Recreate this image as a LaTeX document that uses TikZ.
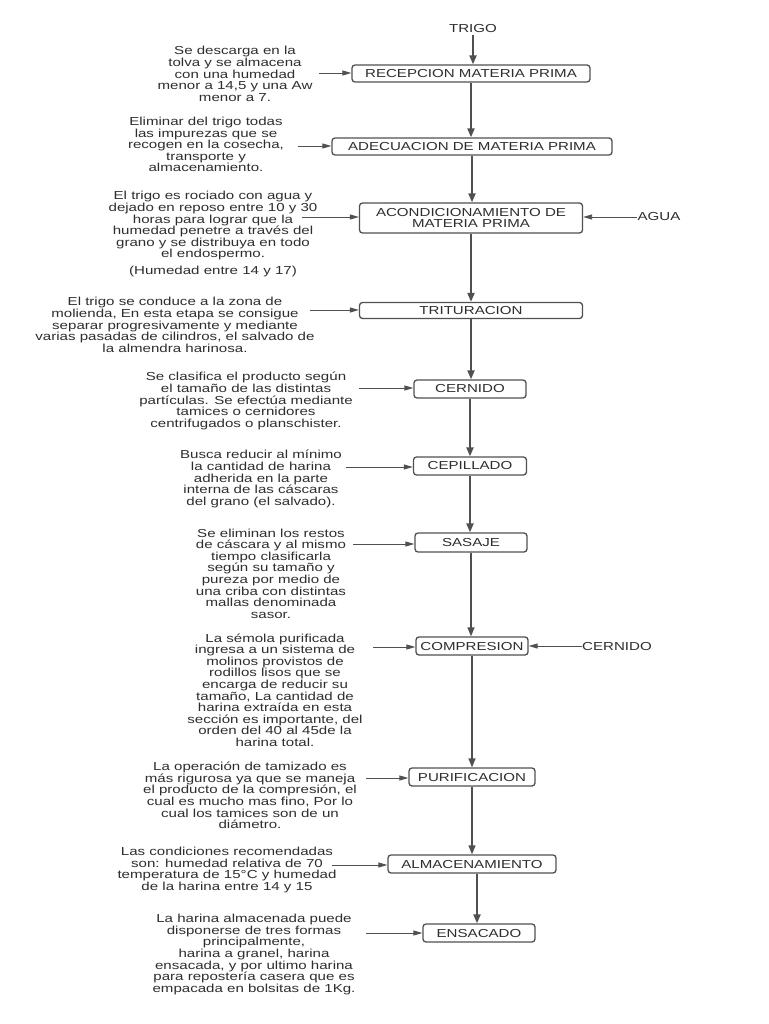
\documentclass[tikz,border=0pt]{standalone}
\usepackage{fontspec}
\setmainfont{Liberation Sans}[FakeStretch=1.3]
\usetikzlibrary{arrows.meta}
\definecolor{linegray}{HTML}{505050}
\definecolor{textgray}{HTML}{2e2e2e}
\begin{document}
\begin{tikzpicture}[x=1pt,y=-1pt,
    txt/.style={text=textgray,inner sep=0pt,align=center,font=\fontsize{11.6}{11.6}\selectfont},
    box/.style={txt,draw=linegray,line width=1.3pt,rounded corners=3pt,fill=white,minimum height=17pt},
    flow/.style={draw=linegray,line width=2pt,-{Triangle[length=9pt,width=7pt]}},
    thinflow/.style={flow,line width=1.3pt},
    feed/.style={draw=linegray,line width=0.9pt,-{Triangle[length=9pt,width=5pt]}}]
    \fill[white] (0,0) rectangle (768,1024);
    \useasboundingbox (0,0) rectangle (768,1024);
    % Process boxes
    \node[txt,inner sep=2pt] (trigo) at (473,29) {TRIGO};
    \node[box,minimum width=238pt] (recep) at (471,73.5) {RECEPCION MATERIA PRIMA};
    \node[box,minimum width=280pt] (adec) at (472,146.5) {ADECUACION DE MATERIA PRIMA};
    \node[box,minimum width=223pt,minimum height=30pt] (acond) at (471,218) {ACONDICIONAMIENTO DE\\MATERIA PRIMA};
    \node[box,minimum width=223pt,minimum height=16pt] (trit) at (471,310.5) {TRITURACION};
    \node[box,minimum width=112pt,minimum height=18pt] (cern) at (470,389) {CERNIDO};
    \node[box,minimum width=113pt,minimum height=18pt] (cepi) at (470,466) {CEPILLADO};
    \node[box,minimum width=112pt,minimum height=19pt] (sasaje) at (471,542.5) {SASAJE};
    \node[box,minimum width=112pt,minimum height=18pt] (comp) at (472,646) {COMPRESION};
    \node[box,minimum width=126pt,minimum height=18pt] (purif) at (472,777) {PURIFICACION};
    \node[box,minimum width=168pt,minimum height=18pt] (almac) at (472,864) {ALMACENAMIENTO};
    \node[box,minimum width=112pt,minimum height=18pt] (ensac) at (479,933) {ENSACADO};
    % Inputs on the right
    \node[txt] (agua) at (659,217) {AGUA};
    \node[txt] (cernr) at (617,646) {CERNIDO};
    % Notes on the left
    \node[txt] (t1) at (235,74) {Se descarga en la\\tolva y se almacena\\con una humedad\\menor a 14,5 y una Aw\\menor a 7.};
    \node[txt] (t2) at (206,144.5) {Eliminar del trigo todas\\las  impurezas que se\\recogen en la cosecha,\\transporte y\\almacenamiento.};
    \node[txt] (t3) at (213,234.5) {El trigo es rociado con agua y\\dejado en reposo entre 10 y 30\\horas para lograr que la\\humedad penetre a través del\\grano y  se distribuya  en todo\\el endospermo.\\[5.4pt](Humedad entre 14 y 17)};
    \node[txt] (t4) at (175,325) {El trigo se conduce  a la zona de\\molienda, En esta etapa se consigue\\separar progresivamente y mediante\\varias pasadas de cilindros, el salvado de\\la almendra harinosa.};
    \node[txt] (t5) at (246,401) {Se clasifica el producto según\\el tamaño de las distintas\\partículas. Se efectúa mediante\\tamices o cernidores\\centrifugados o planschister.};
    \node[txt] (t6) at (261,479) {Busca  reducir al mínimo\\la cantidad de harina\\adherida en la parte\\interna de las cáscaras\\del grano (el salvado).};
    \node[txt] (t7) at (271,573.5) {Se eliminan los restos\\de cáscara y al mismo\\tiempo clasificarla\\según su tamaño y\\pureza por medio de\\una criba con distintas\\mallas denominada\\sasor.};
    \node[txt] (t8) at (275,690) {La sémola purificada\\ingresa a un sistema de\\molinos provistos de\\rodillos lisos que se\\encarga de  reducir su\\tamaño, La cantidad de\\harina extraída en esta\\sección es importante, del\\orden del 40 al 45de la\\harina total.};
    \node[txt] (t9) at (250,795.5) {La operación de tamizado es\\más rigurosa ya que se maneja\\el producto de la compresión, el\\cual es mucho mas fino, Por lo\\cual los tamices son de un\\diámetro.};
    \node[txt] (t10) at (227,870) {Las condiciones recomendadas\\son: humedad relativa de 70\\temperatura de 15°C y humedad\\de la harina entre 14 y 15};
    \node[txt] (t11) at (254,954.5) {La harina almacenada puede\\disponerse de tres formas\\principalmente,\\harina a granel, harina\\ensacada, y por ultimo harina\\para repostería casera que es\\empacada en bolsitas de 1Kg.};
    % Tails of the note arrows
    \coordinate (a1) at (319,73);
    \coordinate (a2) at (298,146);
    \coordinate (a3) at (302,217);
    \coordinate (a4) at (310,310);
    \coordinate (a5) at (359,388);
    \coordinate (a6) at (346,467);
    \coordinate (a7) at (353,544);
    \coordinate (a8) at (373,647);
    \coordinate (a9) at (366,778);
    \coordinate (a10) at (332,865);
    \coordinate (a11) at (366,933);
    % Main flow
    \draw[flow] (trigo.south) -- (trigo.south |- recep.north);
    \draw[flow] (recep.south) -- (recep.south |- adec.north);
    \draw[flow] (adec.south) -- (adec.south |- acond.north);
    \draw[flow] (acond.south) -- (acond.south |- trit.north);
    \draw[flow] (trit.south) -- (trit.south |- cern.north);
    \draw[flow] (cern.south) -- (cern.south |- cepi.north);
    \draw[flow] (cepi.south) -- (cepi.south |- sasaje.north);
    \draw[thinflow] (sasaje.south) -- (sasaje.south |- comp.north);
    \draw[thinflow] (comp.south) -- (comp.south |- purif.north);
    \draw[thinflow] (purif.south) -- (purif.south |- almac.north);
    \draw[flow] ([xshift=5pt]almac.south) -- ([xshift=5pt]almac.south |- ensac.north);
    % Side arrows
    \draw[feed] (a1) -- (a1 -| recep.west);
    \draw[feed] (a2) -- (a2 -| adec.west);
    \draw[feed] (a3) -- (a3 -| acond.west);
    \draw[feed] (a4) -- (a4 -| trit.west);
    \draw[feed] (a5) -- (a5 -| cern.west);
    \draw[feed] (a6) -- (a6 -| cepi.west);
    \draw[feed] (a7) -- (a7 -| sasaje.west);
    \draw[feed] (a8) -- (a8 -| comp.west);
    \draw[feed] (a9) -- (a9 -| purif.west);
    \draw[feed] (a10) -- (a10 -| almac.west);
    \draw[feed] (a11) -- (a11 -| ensac.west);
    \draw[feed] (agua.west) -- (agua.west -| acond.east);
    \draw[feed] (cernr.west) -- (cernr.west -| comp.east);
\end{tikzpicture}
\end{document}
